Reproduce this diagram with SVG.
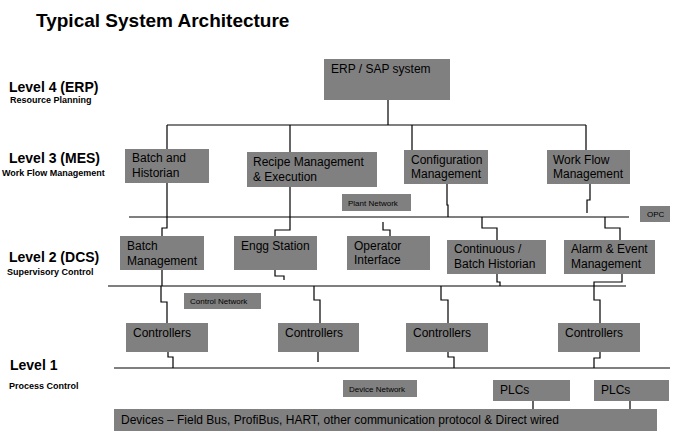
<svg xmlns="http://www.w3.org/2000/svg" width="686" height="441" viewBox="0 0 686 441">
<style>
.b{fill:#808080}
.t{font-family:"Liberation Sans",Arial,sans-serif;font-size:12px;fill:#000}
.s{font-family:"Liberation Sans",Arial,sans-serif;font-size:8px;fill:#000}
.h{font-family:"Liberation Sans",Arial,sans-serif;font-weight:bold;fill:#000}
.c{fill:none;stroke:#000;stroke-width:1.2}
</style>
<rect width="686" height="441" fill="#fff"/>
<text class="h" x="36" y="27" font-size="19">Typical System Architecture</text>
<text class="h" x="9" y="92" font-size="14">Level 4 (ERP)</text>
<text class="h" x="10" y="103" font-size="9">Resource Planning</text>
<text class="h" x="9" y="163" font-size="14">Level 3 (MES)</text>
<text class="h" x="2" y="176" font-size="9">Work Flow Management</text>
<text class="h" x="9" y="262" font-size="14">Level 2 (DCS)</text>
<text class="h" x="7" y="275" font-size="9">Supervisory Control</text>
<text class="h" x="10" y="370" font-size="14">Level 1</text>
<text class="h" x="9" y="389" font-size="9">Process Control</text>
<g id="connectors" class="c">
<path d="M388 100V125M167 125H586M167 125V150M290 125V152M412 125V150M586 125V150"/>
<path d="M129 217H629M108 286H626M114 368H670"/>
<path d="M167 183V217M290 187V217M447 184V205H448V217M590 184V200H587V213"/>
<path d="M167 217V228H162V236M290 217V230H275V236M383 222V230H390V236M482 217V228H497V240M605 217V228H620V240"/>
<path d="M162 270V286M275 270V276H284V280M497 274V282H500V286M622 274V282H594V286"/>
<path d="M161 286V302H167V323M314 286V300H320V323M441 286V300H448V323M594 286V300H600V323"/>
<path d="M168 352V357H173V368M318 352V362M448 352V357H454V368M600 352V358H594V368"/>
<path d="M533 401V409M630 401V409"/>
</g>
<g id="erp"><rect class="b" x="324" y="59" width="126" height="41"/><text class="t" x="331" y="73">ERP / SAP system</text></g>
<g id="batchhist"><rect class="b" x="125" y="149" width="84" height="34"/><text class="t" x="132" y="162">Batch and</text><text class="t" x="132" y="177">Historian</text></g>
<g id="recipe"><rect class="b" x="247" y="152" width="130" height="35"/><text class="t" x="253" y="166">Recipe Management</text><text class="t" x="253" y="181">&amp; Execution</text></g>
<g id="config"><rect class="b" x="404" y="150" width="84" height="34"/><text class="t" x="411" y="164">Configuration</text><text class="t" x="411" y="178">Management</text></g>
<g id="workflow"><rect class="b" x="547" y="150" width="83" height="34"/><text class="t" x="553" y="164">Work Flow</text><text class="t" x="553" y="178">Management</text></g>
<g id="plantnet"><rect class="b" x="342" y="194" width="69" height="17"/><text class="s" x="348" y="206">Plant Network</text></g>
<g id="opc"><rect class="b" x="640" y="206" width="30" height="16"/><text class="s" x="647" y="217">OPC</text></g>
<g id="batchmgmt"><rect class="b" x="120" y="236" width="84" height="34"/><text class="t" x="127" y="250">Batch</text><text class="t" x="127" y="265">Management</text></g>
<g id="engg"><rect class="b" x="234" y="236" width="83" height="34"/><text class="t" x="241" y="250">Engg Station</text></g>
<g id="operator"><rect class="b" x="347" y="236" width="83" height="34"/><text class="t" x="354" y="250">Operator</text><text class="t" x="354" y="264">Interface</text></g>
<g id="continuous"><rect class="b" x="447" y="240" width="99" height="34"/><text class="t" x="454" y="253">Continuous  /</text><text class="t" x="454" y="268">Batch Historian</text></g>
<g id="alarm"><rect class="b" x="564" y="240" width="91" height="34"/><text class="t" x="571" y="253">Alarm &amp; Event</text><text class="t" x="571" y="268">Management</text></g>
<g id="ctrlnet"><rect class="b" x="184" y="293" width="77" height="16"/><text class="s" x="190" y="304">Control Network</text></g>
<g id="ctrl1"><rect class="b" x="126" y="323" width="82" height="29"/><text class="t" x="133" y="337">Controllers</text></g>
<g id="ctrl2"><rect class="b" x="278" y="323" width="81" height="29"/><text class="t" x="285" y="337">Controllers</text></g>
<g id="ctrl3"><rect class="b" x="406" y="323" width="82" height="29"/><text class="t" x="413" y="337">Controllers</text></g>
<g id="ctrl4"><rect class="b" x="558" y="323" width="82" height="29"/><text class="t" x="565" y="337">Controllers</text></g>
<g id="devnet"><rect class="b" x="343" y="380" width="74" height="17"/><text class="s" x="349" y="392">Device Network</text></g>
<g id="plc1"><rect class="b" x="493" y="380" width="77" height="21"/><text class="t" x="500" y="394">PLCs</text></g>
<g id="plc2"><rect class="b" x="594" y="380" width="75" height="21"/><text class="t" x="601" y="394">PLCs</text></g>
<g id="devices"><rect class="b" x="114" y="409" width="543" height="22"/><text class="t" x="121" y="424">Devices – Field Bus, ProfiBus, HART, other communication protocol &amp; Direct wired</text></g>
</svg>
